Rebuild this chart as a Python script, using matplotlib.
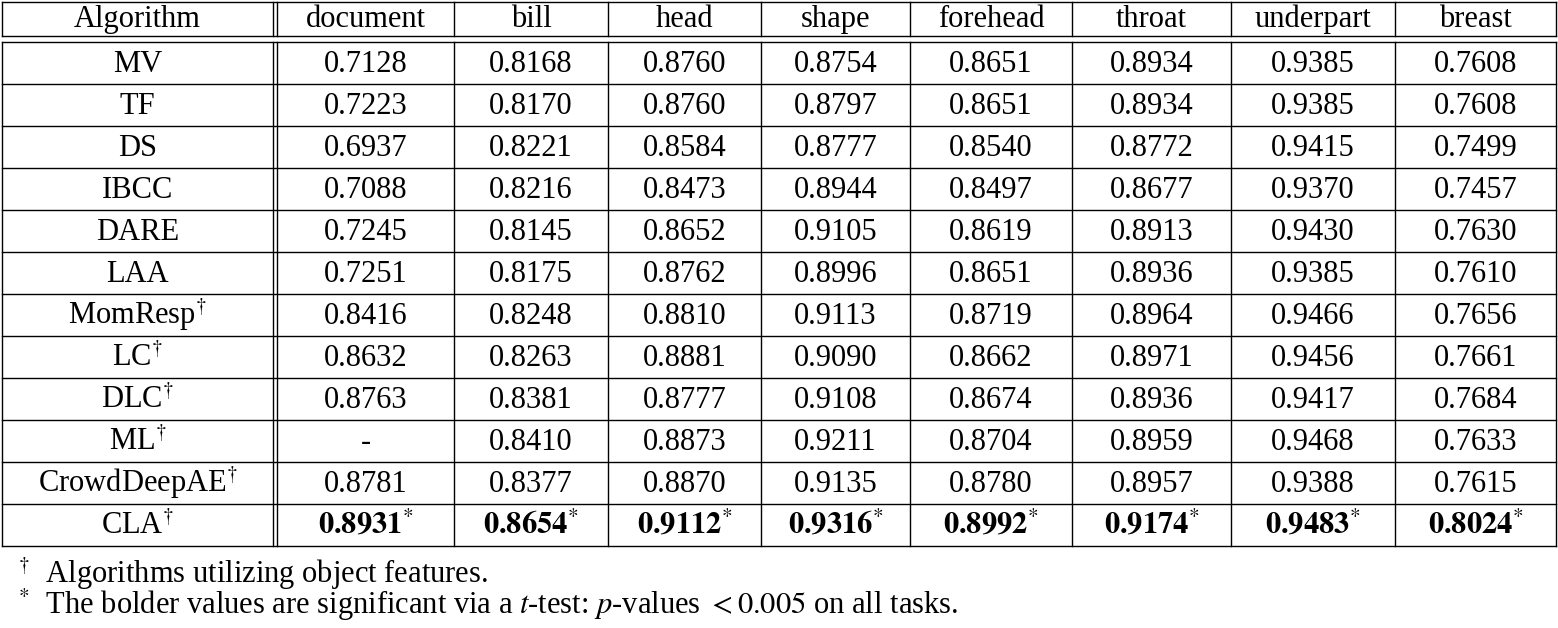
import matplotlib
matplotlib.use("Agg")
import matplotlib.pyplot as plt

plt.rcParams['font.family'] = 'serif'
plt.rcParams['font.serif'] = ['Liberation Serif', 'DejaVu Serif']
plt.rcParams['mathtext.fontset'] = 'stix'

columns = ["Algorithm", "document", "bill", "head", "shape", "forehead", "throat", "underpart", "breast"]
algorithms = ["MV", "TF", "DS", "IBCC", "DARE", "LAA", "MomResp", "LC", "DLC", "ML", "CrowdDeepAE", "CLA"]
uses_features = [False, False, False, False, False, False, True, True, True, True, True, True]
values = [
    ["0.7128", "0.8168", "0.8760", "0.8754", "0.8651", "0.8934", "0.9385", "0.7608"],
    ["0.7223", "0.8170", "0.8760", "0.8797", "0.8651", "0.8934", "0.9385", "0.7608"],
    ["0.6937", "0.8221", "0.8584", "0.8777", "0.8540", "0.8772", "0.9415", "0.7499"],
    ["0.7088", "0.8216", "0.8473", "0.8944", "0.8497", "0.8677", "0.9370", "0.7457"],
    ["0.7245", "0.8145", "0.8652", "0.9105", "0.8619", "0.8913", "0.9430", "0.7630"],
    ["0.7251", "0.8175", "0.8762", "0.8996", "0.8651", "0.8936", "0.9385", "0.7610"],
    ["0.8416", "0.8248", "0.8810", "0.9113", "0.8719", "0.8964", "0.9466", "0.7656"],
    ["0.8632", "0.8263", "0.8881", "0.9090", "0.8662", "0.8971", "0.9456", "0.7661"],
    ["0.8763", "0.8381", "0.8777", "0.9108", "0.8674", "0.8936", "0.9417", "0.7684"],
    ["-", "0.8410", "0.8873", "0.9211", "0.8704", "0.8959", "0.9468", "0.7633"],
    ["0.8781", "0.8377", "0.8870", "0.9135", "0.8780", "0.8957", "0.9388", "0.7615"],
    ["0.8931", "0.8654", "0.9112", "0.9316", "0.8992", "0.9174", "0.9483", "0.8024"],
]
bold_rows = [11]
footnotes = [r"$^{\dagger}$  Algorithms utilizing object features.",
             r"$^{*}$  The bolder values are significant via a $t$-test: $p$-values $< 0.005$ on all tasks."]

W, H = 1558, 628
fig = plt.figure(figsize=(W/100, H/100), dpi=100)
ax = fig.add_axes([0, 0, 1, 1])
ax.set_xlim(0, W); ax.set_ylim(H, 0); ax.axis('off')

xl = [2, 273, 454, 608, 761, 910, 1072, 1231, 1395, 1556]
hdr_top, hdr_bot, body_top, row_h = 2, 36, 42, 42
body_bot = body_top + row_h*len(algorithms)
lw = 1.0
fs = 22

for y in [hdr_top, hdr_bot, body_top]:
    ax.plot([xl[0], xl[-1]], [y, y], color='black', lw=lw)
for i in range(1, len(algorithms)+1):
    ax.plot([xl[0], xl[-1]], [body_top+i*row_h]*2, color='black', lw=lw)
for segs in [(hdr_top, hdr_bot), (body_top, body_bot)]:
    for j, x in enumerate(xl):
        ax.plot([x, x], segs, color='black', lw=lw)
        if j == 1:
            ax.plot([x+4, x+4], segs, color='black', lw=lw)

def cx(j):
    a = xl[j] + (4 if j == 1 else 0)
    return (a + xl[j+1]) / 2

for j, c in enumerate(columns):
    ax.text(cx(j), (hdr_top+hdr_bot)/2 + 8, c, ha='center', va='baseline', fontsize=fs)

for i, alg in enumerate(algorithms):
    y = body_top + (i+0.5)*row_h + 9
    label = alg + (r"$^{\dagger}$" if uses_features[i] else "")
    ax.text(cx(0), y, label, ha='center', va='baseline', fontsize=fs)
    for j, v in enumerate(values[i]):
        if i in bold_rows:
            s = r"$\mathbf{" + v + r"}^{*}$"
        else:
            s = v
        ax.text(cx(j+1), y, s, ha='center', va='baseline', fontsize=fs)

ax.text(18, 583, footnotes[0], ha='left', va='baseline', fontsize=fs)
ax.text(18, 614, footnotes[1], ha='left', va='baseline', fontsize=fs)

fig.savefig("out.png", dpi=100)
